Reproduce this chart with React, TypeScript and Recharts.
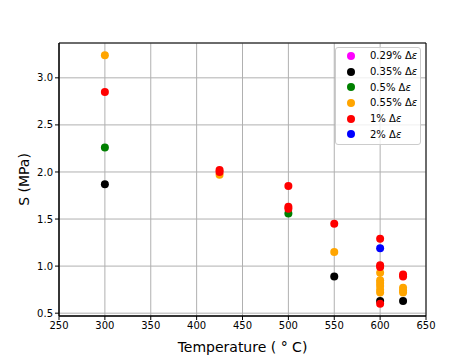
import React from 'react';
import { ScatterChart, Scatter, XAxis, YAxis, CartesianGrid, ReferenceArea } from 'recharts';

// temperatures (°C) and S (MPa) for each strain amplitude
const magentaT: number[] = [];
const magentaS: number[] = [];
const blackT = [300, 550, 600, 625];
const blackS = [1.87, 0.89, 0.63, 0.63];
const greenT = [300, 500];
const greenS = [2.26, 1.56];
const orangeT = [300, 425, 550, 600, 600, 600, 600, 600, 600, 625, 625, 625];
const orangeS = [3.24, 1.97, 1.15, 0.93, 0.85, 0.82, 0.79, 0.75, 0.72, 0.77, 0.74, 0.72];
const redT = [300, 425, 425, 500, 500, 500, 550, 600, 600, 600, 600, 625, 625];
const redS = [2.85, 2.02, 2.0, 1.85, 1.63, 1.61, 1.45, 1.29, 1.01, 0.99, 0.6, 0.91, 0.89];
const blueT = [600];
const blueS = [1.19];

const xTicks = [250, 300, 350, 400, 450, 500, 550, 600, 650];
const yTicks = [0.5, 1.0, 1.5, 2.0, 2.5, 3.0];

const series = [
  { name: '0.29%', color: '#ff00ff', t: magentaT, s: magentaS },
  { name: '0.35%', color: '#000000', t: blackT, s: blackS },
  { name: '0.5%', color: '#008000', t: greenT, s: greenS },
  { name: '0.55%', color: '#ffa500', t: orangeT, s: orangeS },
  { name: '1%', color: '#ff0000', t: redT, s: redS },
  { name: '2%', color: '#0000ff', t: blueT, s: blueS },
];

const font = 'DejaVu Sans, sans-serif';

const Dot = (color: string) => (props: any) => (
  <circle cx={props.cx} cy={props.cy} r={4} fill={color} />
);

const LegendBox = () => (
  <div
    style={{
      position: 'absolute',
      left: 335,
      top: 47,
      width: 86,
      boxSizing: 'border-box',
      border: '1px solid #ccc',
      borderRadius: 3,
      background: 'rgba(255,255,255,0.8)',
      padding: '0 0 2px 0',
      fontFamily: font,
      fontSize: 10,
      color: '#000',
      whiteSpace: 'nowrap',
    }}
  >
    {series.map((s) => (
      <div key={s.name} style={{ display: 'flex', alignItems: 'center', height: 15.7 }}>
        <span
          style={{
            width: 8,
            height: 8,
            borderRadius: 4,
            background: s.color,
            display: 'inline-block',
            marginLeft: 11,
            marginRight: 15,
          }}
        />
        <span>
          {s.name} Δ<i>ε</i>
        </span>
      </div>
    ))}
  </div>
);

export default function App() {
  return (
    <div style={{ position: 'absolute', left: 0, top: 0, width: 474, height: 355, background: '#fff' }}>
      <ScatterChart width={474} height={355} margin={{ top: 43, right: 48, bottom: 0, left: 0 }}>
        <CartesianGrid stroke="#b0b0b0" strokeWidth={1} />
        <XAxis
          type="number"
          dataKey="t"
          domain={[250, 650]}
          ticks={xTicks}
          height={39}
          tickSize={4}
          stroke="#000"
          tick={{ fill: '#000', fontSize: 10, fontFamily: font }}
          label={{ value: 'Temperature ( ° C)', position: 'insideBottom', offset: 3, style: { fontSize: 14, fontFamily: font, fill: '#000' } }}
        />
        <YAxis
          type="number"
          dataKey="s"
          domain={[0.47, 3.37]}
          ticks={yTicks}
          width={59}
          tickSize={4}
          stroke="#000"
          tickFormatter={(v: number) => v.toFixed(1)}
          tick={{ fill: '#000', fontSize: 10, fontFamily: font }}
          label={{ value: 'S (MPa)', angle: -90, position: 'insideLeft', offset: 24, style: { textAnchor: 'middle', fontSize: 14, fontFamily: font, fill: '#000' } }}
        />
        <ReferenceArea x1={250} x2={650} y1={0.47} y2={3.37} fill="none" stroke="#000" strokeWidth={1} ifOverflow="extendDomain" />
        {series.map((s) => (
          <Scatter
            key={s.name}
            name={s.name}
            data={s.t.map((t, i) => ({ t, s: s.s[i] }))}
            fill={s.color}
            shape={Dot(s.color)}
            isAnimationActive={false}
          />
        ))}
      </ScatterChart>
      <LegendBox />
    </div>
  );
}
